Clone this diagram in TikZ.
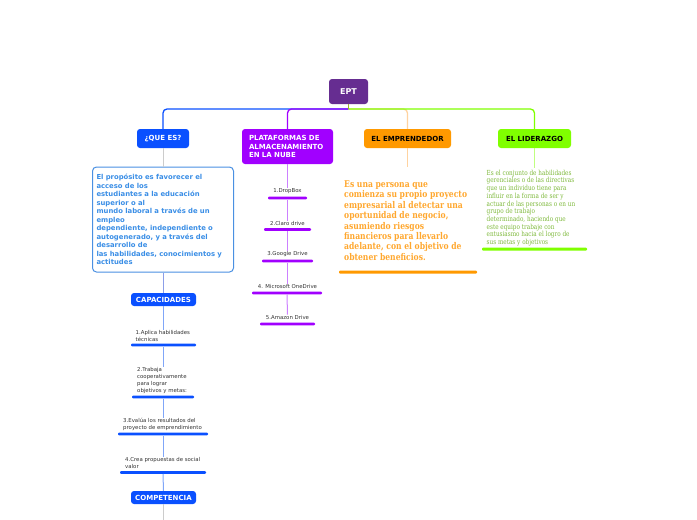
\documentclass[tikz,border=0pt]{standalone}
\usepackage{fontspec}
\setmainfont{DejaVu Sans}
\newfontfamily\slab[FakeStretch=0.82]{DejaVu Serif}
\definecolor{eptc}{HTML}{662D91}
\definecolor{bluec}{HTML}{0A50FF}
\definecolor{purc}{HTML}{A100FF}
\definecolor{orc}{HTML}{FF9900}
\definecolor{grc}{HTML}{80FF00}
\definecolor{stemc}{HTML}{A0B030}
\definecolor{descb}{HTML}{4A90E2}
\definecolor{desct}{HTML}{3A8EE6}
\definecolor{lavc}{HTML}{8C9EE8}
\definecolor{itemlc}{HTML}{80A6F8}
\definecolor{plinec}{HTML}{CC80FF}
\definecolor{olinec}{HTML}{FFD3A0}
\definecolor{glinec}{HTML}{C0FF80}
\definecolor{greyline}{HTML}{CCCCCC}
\definecolor{darktxt}{HTML}{333333}
\definecolor{emptxt}{HTML}{FFA72E}
\definecolor{lidtxt}{HTML}{7DB83A}
\tikzset{
  box/.style={rounded corners=3pt, inner sep=0pt, text=white,
    font=\bfseries\fontsize{7}{8.5}\selectfont},
  bar/.style={inner sep=0pt, minimum height=2.6pt, rounded corners=1pt},
  item/.style={inner sep=0pt, align=left, text=darktxt,
    font=\fontsize{5.4}{7}\selectfont},
  mainline/.style={line width=1.3pt},
  subline/.style={line width=1pt},
}
\begin{document}
\begin{tikzpicture}[x=1pt,y=-1pt]
\useasboundingbox (0,0) rectangle (697,520);

% root and main branches
\node[box, fill=eptc, minimum width=39pt, minimum height=25pt,
  font=\bfseries\fontsize{8}{9}\selectfont] (ept) at (348.5,91.5) {EPT};
\node[box, fill=bluec, minimum width=52pt, minimum height=19pt] (que) at (163,138.5) {¿QUE ES?};
\node[box, fill=purc, minimum width=91pt, minimum height=35pt, align=left,
  text width=77pt] (plat) at (287.5,146.5) {PLATAFORMAS DE\\ALMACENAMIENTO\\EN LA NUBE};
\node[box, fill=orc, text=black, minimum width=87pt, minimum height=19pt] (empr) at (407.5,138.5) {EL EMPRENDEDOR};
\node[box, fill=grc, text=black, minimum width=73pt, minimum height=19pt] (lider) at (534.5,138.5) {EL LIDERAZGO};

\coordinate (hub) at (348.5,109);
\draw[mainline, bluec, rounded corners=4pt] (hub) -| (que.north);
\draw[mainline, purc, rounded corners=4pt] (hub) -| (plat.north);
\draw[mainline, olinec, rounded corners=4pt] (hub) -| (empr.north);
\draw[mainline, grc, rounded corners=4pt] (hub) -| (lider.north);
\draw[mainline, stemc] (ept.south) -- (hub);

% ¿QUE ES? branch
\node[draw=descb, line width=1pt, rounded corners=4pt, fill=white,
  minimum width=141pt, minimum height=105pt, inner sep=0pt,
  text width=133pt, align=left, text=desct,
  font=\bfseries\fontsize{6.85}{8.5}\selectfont] (desc) at (163,219.5)
  {El propósito es favorecer el\\acceso de los\\estudiantes a la educación\\superior o al\\mundo laboral a través de un\\empleo\\dependiente, independiente o\\autogenerado, y a través del\\desarrollo de\\las habilidades, conocimientos y\\actitudes};
\draw[subline, greyline] (que) -- (desc);

\node[box, fill=bluec, minimum width=65pt, minimum height=13pt] (cap) at (163.5,299.5) {CAPACIDADES};
\draw[subline, lavc] (desc.south -| cap) -- (cap);

\node[item, anchor=west] (c1) at (135.5,335.5) {1.Aplica habilidades\\técnicas};
\node[bar, fill=bluec, minimum width=65pt] (cb1) at (163.5,345) {};
\node[item, anchor=west] (c2) at (137,380.5) {2.Trabaja\\cooperativamente\\para lograr\\objetivos y metas:};
\node[bar, fill=bluec, minimum width=62pt] (cb2) at (163,397) {};
\node[item, anchor=west] (c3) at (123,424.5) {3.Evalúa los resultados del\\proyecto de emprendimiento};
\node[bar, fill=bluec, minimum width=90pt] (cb3) at (163,434) {};
\node[item, anchor=west] (c4) at (125,462.5) {4.Crea propuestas de social\\valor};
\node[bar, fill=bluec, minimum width=86pt] (cb4) at (163,472.5) {};
\node[box, fill=bluec, minimum width=65pt, minimum height=13pt] (comp) at (163.5,497.5) {COMPETENCIA};
\coordinate (compend) at (163.5,521);

\draw[subline, itemlc] (cap.south) -- (cap.south |- c1.north);
\draw[subline, itemlc] (cb1.south) -- (cb1.south |- c2.north);
\draw[subline, itemlc] (cb2.south) -- (cb2.south |- c3.north);
\draw[subline, itemlc] (cb3.south) -- (cb3.south |- c4.north);
\draw[subline, itemlc] (cb4.south) -- (comp.north);
\draw[subline, greyline] (comp.south) -- (compend);

% PLATAFORMAS branch
\node[item, align=center] (p1) at (287.5,191) {1.DropBox};
\node[bar, fill=purc, minimum width=39pt] (pb1) at (287.5,198) {};
\node[item, align=center] (p2) at (287.5,223) {2.Claro drive};
\node[bar, fill=purc, minimum width=47pt] (pb2) at (287.5,229.5) {};
\node[item, align=center] (p3) at (287.5,254) {3.Google Drive};
\node[bar, fill=purc, minimum width=51pt] (pb3) at (287.5,261) {};
\node[item, align=center] (p4) at (287.5,286) {4. Microsoft OneDrive};
\node[bar, fill=purc, minimum width=70pt] (pb4) at (287,293) {};
\node[item, align=center] (p5) at (287.5,317) {5.Amazon Drive};
\node[bar, fill=purc, minimum width=55pt] (pb5) at (287.5,324) {};

\draw[subline, plinec] (plat.south) -- (p1.north);
\draw[subline, plinec] (pb1.south) -- (p2.north);
\draw[subline, plinec] (pb2.south) -- (p3.north);
\draw[subline, plinec] (pb3.south) -- (p4.north);
\draw[subline, plinec] (pb4.south) -- (p5.north);

% EMPRENDEDOR branch
\coordinate (emprend) at (407.5,167);
\draw[subline, olinec] (empr.south) -- (emprend);
\node[anchor=west, inner sep=0pt, align=left, text=emptxt,
  font=\slab\bfseries\fontsize{9.3}{10.4}\selectfont] (emptext) at (344,220.5)
  {Es una persona que\\comienza su propio proyecto\\empresarial al detectar una\\oportunidad de negocio,\\asumiendo riesgos\\financieros para llevarlo\\adelante, con el objetivo de\\obtener beneficios.};
\node[bar, fill=orc, minimum width=138pt, minimum height=3pt] (empbar) at (408,272) {};

% LIDERAZGO branch
\coordinate (liderend) at (534.5,168);
\draw[subline, glinec] (lider.south) -- (liderend);
\node[anchor=west, inner sep=0pt, align=left, text=lidtxt,
  font=\slab\fontsize{6.95}{7.7}\selectfont] (lidtext) at (486.5,208)
  {Es el conjunto de habilidades\\gerenciales o de las directivas\\que un individuo tiene para\\influir en la forma de ser y\\actuar de las personas o en un\\grupo de trabajo\\determinado, haciendo que\\este equipo trabaje con\\entusiasmo hacia el logro de\\sus metas y objetivos};
\node[bar, fill=grc, minimum width=105pt, minimum height=3pt] (lidbar) at (534.5,249) {};
\end{tikzpicture}
\end{document}
